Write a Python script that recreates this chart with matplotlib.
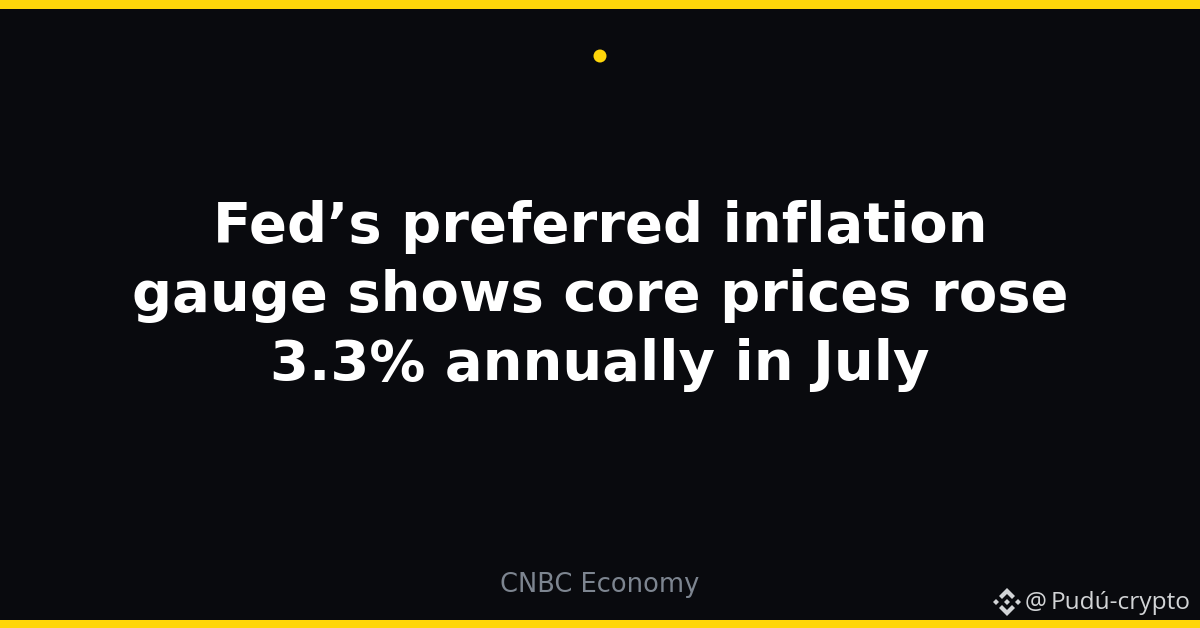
import matplotlib
matplotlib.use("Agg")
import matplotlib.pyplot as plt
from matplotlib.patches import Circle, Polygon, Rectangle

W, H = 1200, 628
BG = "#090a0e"
YELLOW = "#ffd60a"
MARK = "#d2d4d6"

HEADLINE = ["Fed’s preferred inflation", "gauge shows core prices rose", "3.3% annually in July"]
SOURCE = "CNBC Economy"
HANDLE_AT = "@"
HANDLE_NAME = "Pudú-crypto"

fig = plt.figure(figsize=(W / 100, H / 100), dpi=100, facecolor=BG)
ax = fig.add_axes([0, 0, 1, 1])
ax.set_xlim(0, W)
ax.set_ylim(H, 0)
ax.axis("off")

# top and bottom bars
ax.add_patch(Rectangle((0, 0), W, 9, color=YELLOW, lw=0))
ax.add_patch(Rectangle((0, 620), W, 8, color=YELLOW, lw=0))
ax.add_patch(Circle((600, 56), 6.5, color=YELLOW, lw=0))

for line, y in zip(HEADLINE, [242.5, 311, 379.5]):
    ax.text(600, y, line, color="white", fontsize=40.3, fontweight="bold",
            family="DejaVu Sans", ha="center", va="baseline")

ax.text(600, 584.5, SOURCE, color="#7d8590", fontsize=18.5, family="DejaVu Sans",
        ha="center", va="center")

# watermark
ax.text(1191, 609, HANDLE_NAME, color=MARK, fontsize=17.6, family="Open Sans",
        ha="right", va="baseline")
ax.text(1046, 609, HANDLE_AT, color=MARK, fontsize=17.6, family="Open Sans",
        ha="right", va="baseline")

# exchange logo, offsets from its centre
cx, cy = 1007, 602
top_chevron = [(-8, -6), (0, -14), (8, -6), (5, -3), (0, -8), (-5, -3)]
side_diamond = [(-14, 0), (-11, -3), (-8, 0), (-11, 3)]
centre_diamond = [(-3, 0), (0, -3), (3, 0), (0, 3)]
for sign in (1, -1):
    ax.add_patch(Polygon([(cx + x, cy + sign * y) for x, y in top_chevron], closed=True, color=MARK, lw=0))
    ax.add_patch(Polygon([(cx + sign * x, cy + y) for x, y in side_diamond], closed=True, color=MARK, lw=0))
ax.add_patch(Polygon([(cx + x, cy + y) for x, y in centre_diamond], closed=True, color=MARK, lw=0))

fig.savefig("out.png", dpi=100, facecolor=BG)
